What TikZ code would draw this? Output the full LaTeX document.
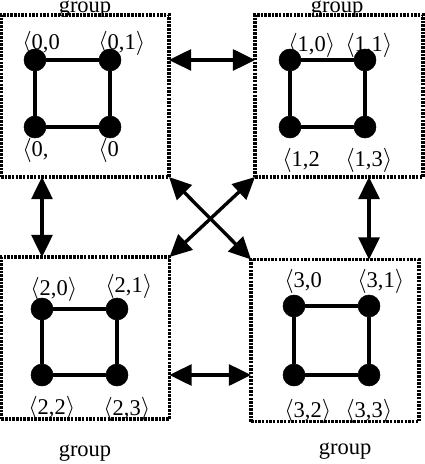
\documentclass[tikz,border=0pt]{standalone}
\usepackage{fontspec}
\setmainfont{Liberation Serif}
\usetikzlibrary{arrows.meta, positioning}

\begin{document}
\begin{tikzpicture}[x=0.025cm, y=-0.025cm, every node/.style={font=\fontsize{16}{18}\selectfont},
    groupbox/.style={draw, line width=2.3pt, dash pattern=on 1.8pt off 0.8pt, minimum width=4.2cm, minimum height=4.05cm, inner sep=0, outer sep=0},
    grouptitle/.style={anchor=base, inner sep=0},
    proc/.style={draw, circle, fill=black, minimum size=0.55cm, inner sep=0},
    plabel/.style={anchor=base west, inner sep=0},
    link/.style={line width=2.2pt},
    xfer/.style={line width=2.4pt, {Triangle[length=0.55cm,width=0.52cm]}-{Triangle[length=0.55cm,width=0.52cm]}}]

    \useasboundingbox (0,0) rectangle (424,464);

    % Groups
    \node[groupbox] (g0) at (85,96) {};
    \node[groupbox] (g1) at (339,96) {};
    \node[groupbox] (g2) at (85.5,338) {};
    \node[groupbox] (g3) at (335,340.5) {};
    \node[grouptitle] (t0) at (85,13) {group};
    \node[grouptitle] (t1) at (337,13) {group};
    \node[grouptitle] (t2) at (85,456) {group};
    \node[grouptitle] (t3) at (345,454) {group};

    % Group 0
    \node[proc] (n00) at (35,60) {};
    \node[proc] (n01) at (110,60) {};
    \node[proc] (n02) at (35,127) {};
    \node[proc] (n03) at (110,127) {};
    \draw[link] (n00) -- (n01) -- (n03) -- (n02) -- (n00);
    \node[plabel] (l00) at (22,50) {$\langle$0,0};
    \node[plabel] (l01) at (98,50) {$\langle$0,1$\rangle$};
    \node[plabel] (l02) at (22,157) {$\langle$0,};
    \node[plabel] (l03) at (98,157) {$\langle$0};

    % Group 1
    \node[proc] (n10) at (290,60) {};
    \node[proc] (n11) at (365,60) {};
    \node[proc] (n12) at (290,127) {};
    \node[proc] (n13) at (365,127) {};
    \draw[link] (n10) -- (n11) -- (n13) -- (n12) -- (n10);
    \node[plabel] (l10) at (288,52) {$\langle$1,0$\rangle$};
    \node[plabel] (l11) at (345,52) {$\langle$1,1$\rangle$};
    \node[plabel] (l12) at (282,167) {$\langle$1,2};
    \node[plabel] (l13) at (345,167) {$\langle$1,3$\rangle$};

    % Group 2
    \node[proc] (n20) at (42,309) {};
    \node[proc] (n21) at (117,309) {};
    \node[proc] (n22) at (42,375) {};
    \node[proc] (n23) at (117,375) {};
    \draw[link] (n20) -- (n21) -- (n23) -- (n22) -- (n20);
    \node[plabel] (l20) at (30,295) {$\langle$2,0$\rangle$};
    \node[plabel] (l21) at (105,292) {$\langle$2,1$\rangle$};
    \node[plabel] (l22) at (28,414) {$\langle$2,2$\rangle$};
    \node[plabel] (l23) at (103,415) {$\langle$2,3$\rangle$};

    % Group 3
    \node[proc] (n30) at (294,306) {};
    \node[proc] (n31) at (369,306) {};
    \node[proc] (n32) at (294,375) {};
    \node[proc] (n33) at (369,375) {};
    \draw[link] (n30) -- (n31) -- (n33) -- (n32) -- (n30);
    \node[plabel] (l30) at (284,287) {$\langle$3,0};
    \node[plabel] (l31) at (357,287) {$\langle$3,1$\rangle$};
    \node[plabel] (l32) at (284,417) {$\langle$3,2$\rangle$};
    \node[plabel] (l33) at (345,417) {$\langle$3,3$\rangle$};

    % Links between groups
    \draw[xfer] (g0.east |- n01) -- (g1.west |- n10);
    \draw[xfer] (g2.east |- n23) -- (g3.west |- n32);
    \draw[xfer] (n20 |- g0.south) -- (n20 |- g2.north);
    \draw[xfer] (n33 |- g1.south) -- (n33 |- g3.north);
    \draw[xfer] (g0.south east) -- (g3.north west);
    \draw[xfer] (g1.south west) -- (g2.north east);
\end{tikzpicture}
\end{document}
